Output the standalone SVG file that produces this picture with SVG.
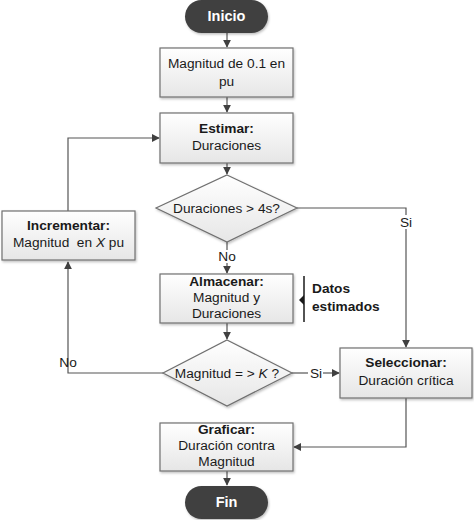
<svg xmlns="http://www.w3.org/2000/svg" width="474" height="520" viewBox="0 0 474 520">
<defs>
<linearGradient id="g" x1="0" y1="0" x2="0" y2="1">
<stop offset="0" stop-color="#ffffff"/>
<stop offset="1" stop-color="#e6e6e6"/>
</linearGradient>
<marker id="a" viewBox="0 0 10 10" refX="9" refY="5" markerWidth="8" markerHeight="8" markerUnits="userSpaceOnUse" orient="auto">
<path d="M0,0 L10,5 L0,10 z" fill="#404040"/>
</marker>
<filter id="s" x="-10%" y="-10%" width="120%" height="130%">
<feDropShadow dx="1" dy="1.5" stdDeviation="1" flood-color="#000" flood-opacity="0.25"/>
</filter>
</defs>
<style>
text{font-family:"Liberation Sans",Arial,sans-serif;font-size:13.7px;fill:#1a1a1a;text-anchor:middle}
.b{font-weight:bold}
.w{fill:#ffffff;font-weight:bold;font-size:14.5px}
.box{fill:url(#g);stroke:#707070;stroke-width:1.2;filter:url(#s)}
.pill{fill:#404040;filter:url(#s)}
.c{fill:none;stroke:#555;stroke-width:1.2}
</style>
<rect width="474" height="520" fill="#ffffff"/>
<g id="connectors">
<path class="c" d="M227,33 V47" marker-end="url(#a)"/>
<path class="c" d="M227,97 V112" marker-end="url(#a)"/>
<path class="c" d="M227,163 V174" marker-end="url(#a)"/>
<path class="c" d="M227,242 V250"/>
<path class="c" d="M227,263 V273" marker-end="url(#a)"/>
<path class="c" d="M227,323 V339" marker-end="url(#a)"/>
<path class="c" d="M297,208 H406 V215"/>
<path class="c" d="M406,229 V347" marker-end="url(#a)"/>
<path class="c" d="M292,373 H308"/>
<path class="c" d="M323,373 H339" marker-end="url(#a)"/>
<path class="c" d="M163,373 H68 V262" marker-end="url(#a)"/>
<path class="c" d="M68,211 V138 H159" marker-end="url(#a)"/>
<path class="c" d="M406,398 V447 H294" marker-end="url(#a)"/>
<path class="c" d="M227,471 V485" marker-end="url(#a)"/>
<path d="M304,276 V322" fill="none" stroke="#1a1a1a" stroke-width="1.5"/>
<path d="M304,295 L299,300 L304,305 z" fill="#1a1a1a"/>
</g>
<g id="inicio">
<rect class="pill" x="185" y="0" width="83" height="33" rx="16.5"/>
<text class="w" x="226.5" y="21">Inicio</text>
</g>
<g id="magnitud">
<rect class="box" x="160" y="48" width="133" height="49"/>
<text x="226.5" y="68">Magnitud de 0.1 en</text>
<text x="226.5" y="86">pu</text>
</g>
<g id="estimar">
<rect class="box" x="160" y="113" width="133" height="50"/>
<text class="b" x="226.5" y="133">Estimar:</text>
<text x="226.5" y="150">Duraciones</text>
</g>
<g id="decision1">
<path class="box" d="M227,175 L297,208 L227,242 L156,208 z"/>
<text x="226.5" y="213">Duraciones &gt; 4s?</text>
</g>
<g id="incrementar">
<rect class="box" x="2" y="211" width="133" height="49"/>
<text class="b" x="68.5" y="230">Incrementar:</text>
<text x="68.5" y="247">Magnitud&#160; en <tspan font-style="italic">X</tspan> pu</text>
</g>
<g id="almacenar">
<rect class="box" x="160" y="274" width="133" height="49"/>
<text class="b" x="226.5" y="286">Almacenar:</text>
<text x="226.5" y="302">Magnitud y</text>
<text x="226.5" y="318">Duraciones</text>
</g>
<g id="datos">
<text class="b" x="312" y="293" style="text-anchor:start">Datos</text>
<text class="b" x="312" y="311" style="text-anchor:start">estimados</text>
</g>
<g id="decision2">
<path class="box" d="M227,340 L292,373 L227,406 L163,373 z"/>
<text x="227" y="378">Magnitud = &gt; <tspan font-style="italic">K</tspan> ?</text>
</g>
<g id="seleccionar">
<rect class="box" x="340" y="348" width="132" height="50"/>
<text class="b" x="406" y="367">Seleccionar:</text>
<text x="406" y="385">Duración crítica</text>
</g>
<g id="graficar">
<rect class="box" x="160" y="423" width="133" height="48"/>
<text class="b" x="226.5" y="434">Graficar:</text>
<text x="226.5" y="450">Duración contra</text>
<text x="226.5" y="466">Magnitud</text>
</g>
<g id="fin">
<rect class="pill" x="185" y="486" width="83" height="33" rx="16.5"/>
<text class="w" x="226.5" y="507">Fin</text>
</g>
<g id="labels">
<text x="227" y="261">No</text>
<text x="406" y="227">Si</text>
<text x="316" y="378">Si</text>
<text x="68" y="367">No</text>
</g>
</svg>
